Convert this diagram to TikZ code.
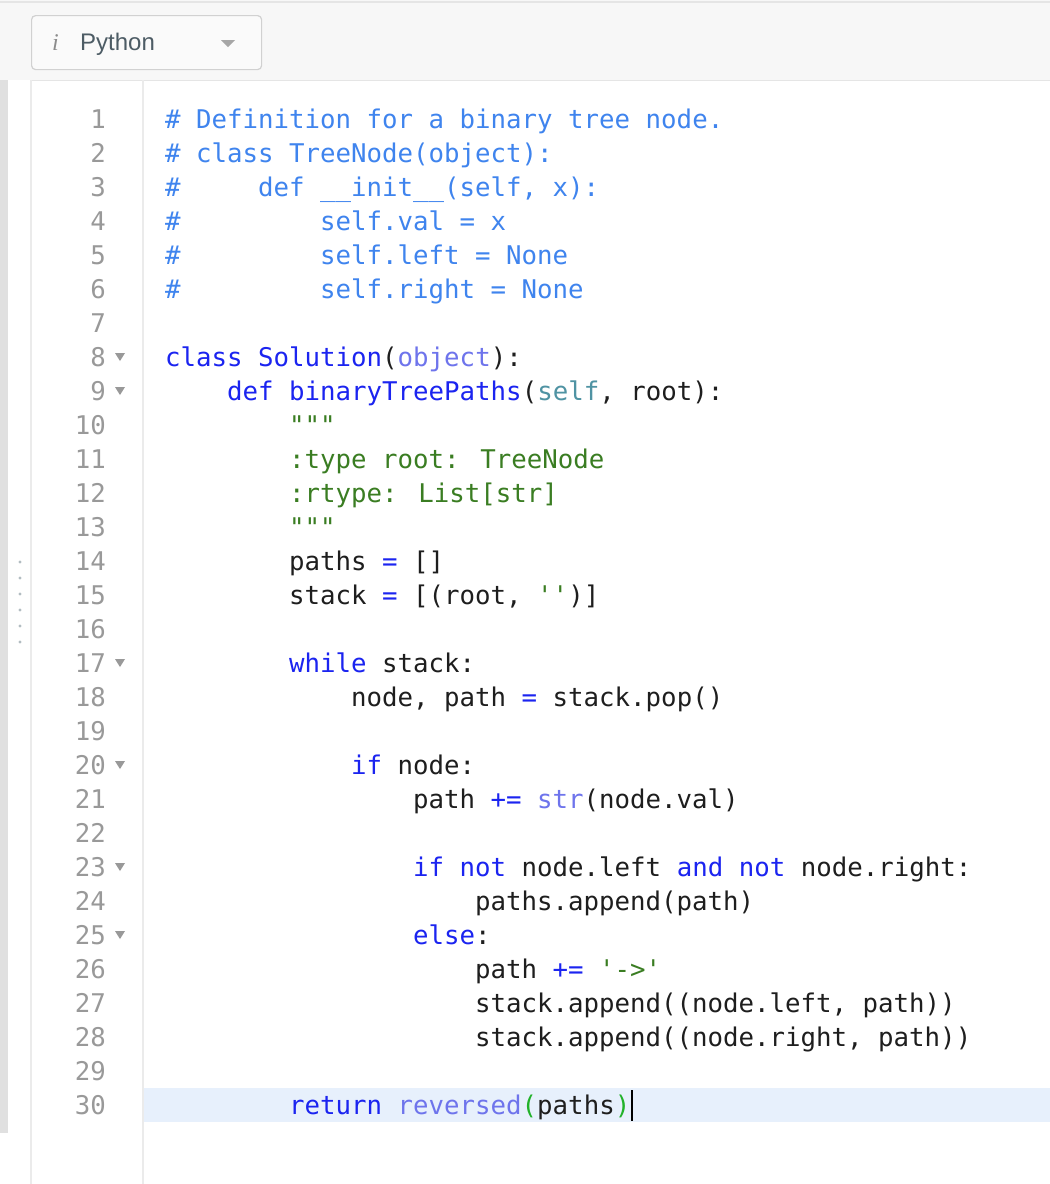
\documentclass[tikz,border=0pt]{standalone}
\usepackage{fontspec}
\setmainfont{Liberation Sans}
\newfontfamily\code{DejaVu Sans Mono}
\newfontfamily\ifont{Liberation Serif}
\definecolor{cmt}{HTML}{3F84EE}
\definecolor{kw}{HTML}{1B24F0}
\definecolor{bi}{HTML}{6E74EC}
\definecolor{slf}{HTML}{4F93A3}
\definecolor{strc}{HTML}{3A7D22}
\definecolor{txt}{HTML}{1E1E1E}
\definecolor{lno}{HTML}{999999}
\definecolor{brk}{HTML}{22B22A}
\definecolor{hl}{HTML}{E7F0FC}
\definecolor{ddtext}{HTML}{4D5C65}
\newcommand\K[1]{\textcolor{kw}{#1}}
\newcommand\B[1]{\textcolor{bi}{#1}}
\newcommand\SL[1]{\textcolor{slf}{#1}}
\newcommand\ST[1]{\textcolor{strc}{#1}}
\begin{document}
\begin{tikzpicture}[x=1pt,y=-1pt,
  codeline/.style={anchor=base west,inner sep=0pt,font=\code\fontsize{25.75}{30}\selectfont,text=txt},
  lnum/.style={anchor=base east,inner sep=0pt,font=\code\fontsize{25.75}{30}\selectfont,text=lno}]
\useasboundingbox (0,0) rectangle (1050,1184);
% backgrounds
\fill[white] (0,0) rectangle (1050,1184);
\fill[black!3] (0,0) rectangle (1050,80);
\draw[black!10,line width=1.5] (0,2) -- (1050,2);
\draw[black!10,line width=1.5] (31,80.5) -- (1050,80.5);
\fill[black!12] (0,80) rectangle (8,1133);
\draw[black!8,line width=1.5] (31,80) -- (31,1184);
\draw[black!8,line width=1.5] (143,80) -- (143,1184);
\foreach \yy in {562,578,594,610,626,642} \fill[black!25!cyan!20!gray!60] (20,\yy) circle (1.6);
% dropdown
\node[draw=black!18,fill=black!2,rounded corners=4pt,line width=1.2,minimum width=230,minimum height=54,anchor=north west,inner sep=0pt] (dd) at (31,15) {};
\node[anchor=base west,inner sep=0pt,font=\ifont\fontsize{24}{28}\selectfont\itshape,text=black!45] (ddi) at (52,50) {i};
\node[anchor=base west,inner sep=0pt,font=\fontsize{24}{28}\selectfont,text=ddtext] (ddt) at (80,50) {Python};
\fill[black!35] (221,40) -- (235,40) -- (228,47) -- cycle;
% highlight line 30
\fill[hl] (144,1088) rectangle (1050,1122);
% line numbers
\foreach \n in {1,...,30} \node[lnum] (ln\n) at (106,{128+34*(\n-1)}) {\n};
\foreach \n in {8,9,17,20,23,25} \fill[lno] (115,{115+34*(\n-1)}) -- (125,{115+34*(\n-1)}) -- (120,{123+34*(\n-1)}) -- cycle;
% code
\newcommand\cx[1]{165+15.5*#1}
\node[codeline] (c1) at ({\cx{0}},128) {\textcolor{cmt}{\# Definition for a binary tree node.}};
\node[codeline] (c2) at ({\cx{0}},162) {\textcolor{cmt}{\# class TreeNode(object):}};
\node[codeline] (c3) at ({\cx{0}},196) {\textcolor{cmt}{\#}};
\node[codeline] (c3b) at ({\cx{6}},196) {\textcolor{cmt}{def \_\_init\_\_(self, x):}};
\node[codeline] (c4) at ({\cx{0}},230) {\textcolor{cmt}{\#}};
\node[codeline] (c4b) at ({\cx{10}},230) {\textcolor{cmt}{self.val = x}};
\node[codeline] (c5) at ({\cx{0}},264) {\textcolor{cmt}{\#}};
\node[codeline] (c5b) at ({\cx{10}},264) {\textcolor{cmt}{self.left = None}};
\node[codeline] (c6) at ({\cx{0}},298) {\textcolor{cmt}{\#}};
\node[codeline] (c6b) at ({\cx{10}},298) {\textcolor{cmt}{self.right = None}};
\node[codeline] (c8) at ({\cx{0}},366) {\K{class Solution}(\B{object}):};
\node[codeline] (c9) at ({\cx{4}},400) {\K{def binaryTreePaths}(\SL{self}, root):};
\node[codeline] (c10) at ({\cx{8}},434) {\ST{"""}};
\node[codeline] (c11) at ({\cx{8}},468) {\ST{:type root: TreeNode}};
\node[codeline] (c12) at ({\cx{8}},502) {\ST{:rtype: List[str]}};
\node[codeline] (c13) at ({\cx{8}},536) {\ST{"""}};
\node[codeline] (c14) at ({\cx{8}},570) {paths \K{=} []};
\node[codeline] (c15) at ({\cx{8}},604) {stack \K{=} [(root, \ST{''})]};
\node[codeline] (c17) at ({\cx{8}},672) {\K{while} stack:};
\node[codeline] (c18) at ({\cx{12}},706) {node, path \K{=} stack.pop()};
\node[codeline] (c20) at ({\cx{12}},774) {\K{if} node:};
\node[codeline] (c21) at ({\cx{16}},808) {path \K{+=} \B{str}(node.val)};
\node[codeline] (c23) at ({\cx{16}},876) {\K{if not} node.left \K{and not} node.right:};
\node[codeline] (c24) at ({\cx{20}},910) {paths.append(path)};
\node[codeline] (c25) at ({\cx{16}},944) {\K{else}:};
\node[codeline] (c26) at ({\cx{20}},978) {path \K{+=} \ST{'->'}};
\node[codeline] (c27) at ({\cx{20}},1012) {stack.append((node.left, path))};
\node[codeline] (c28) at ({\cx{20}},1046) {stack.append((node.right, path))};
\node[codeline] (c30) at ({\cx{8}},1114) {\K{return} \B{reversed}\textcolor{brk}{(}paths\textcolor{brk}{)}};
\draw[black,line width=1.5] (c30.base east) ++(1.5,-24) -- ++(0,31);
\end{tikzpicture}
\end{document}
